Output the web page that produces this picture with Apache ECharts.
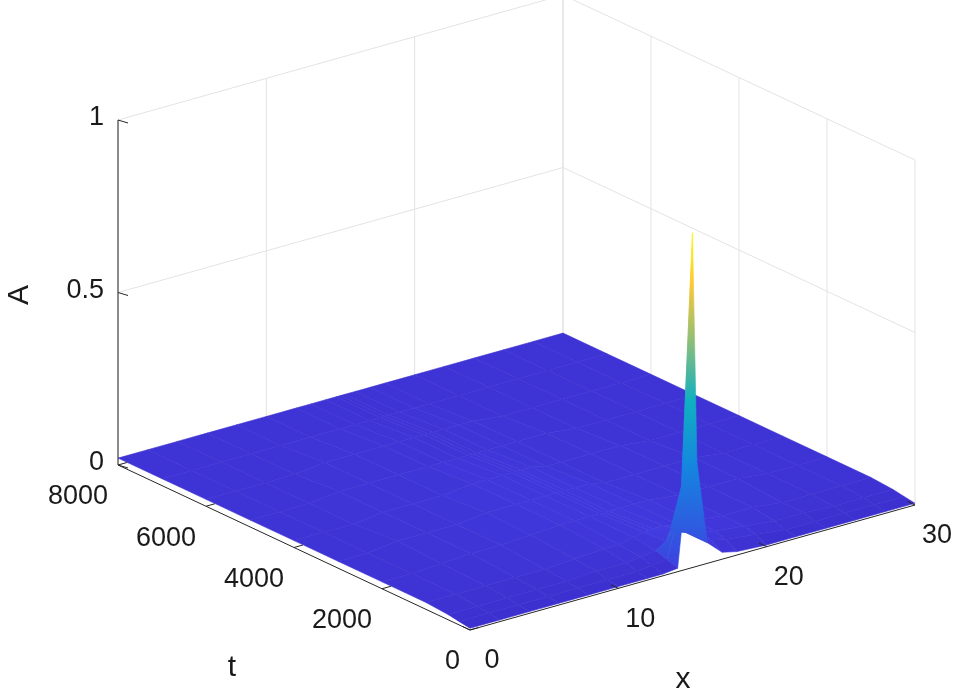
<!DOCTYPE html>
<html><head><meta charset="utf-8">
<script src="https://cdn.jsdelivr.net/npm/echarts@6/dist/echarts.min.js"></script>
<style>html,body{margin:0;background:#fff}#c{width:974px;height:692px}</style>
</head><body><div id="c"></div>
<script>
const xs = [0,2,4,6,8,10,12,13,14,14.7,15,15.3,16,17,18,20,22,24,26,28,30];
const ts = [0,250,500,1000,2000,3000,4000,5000,6000,7000,8000];
// A values, one row per t
const A = [
[0.005,0.005,0.005,0.005,0.005,0.005,0.005,0.005,0.01,0.30,0.97,0.30,0.06,0.02,0.01,0.005,0.005,0.005,0.005,0.005,0.005],
[0.01,0.01,0.01,0.01,0.01,0.01,0.01,0.015,0.02,0.12,0.22,0.12,0.06,0.04,0.03,0.02,0.01,0.01,0.01,0.01,0.01],
[0.015,0.015,0.015,0.015,0.015,0.02,0.02,0.025,0.03,0.05,0.08,0.07,0.06,0.05,0.04,0.03,0.02,0.02,0.015,0.015,0.015],
[0.02,0.02,0.02,0.02,0.02,0.025,0.03,0.03,0.04,0.045,0.05,0.05,0.05,0.04,0.04,0.03,0.03,0.02,0.02,0.02,0.02],
[0.02,0.02,0.025,0.03,0.03,0.035,0.04,0.04,0.04,0.04,0.04,0.04,0.04,0.04,0.04,0.03,0.03,0.03,0.02,0.02,0.02],
[0.02,0.02,0.03,0.03,0.03,0.04,0.04,0.04,0.04,0.04,0.04,0.04,0.04,0.04,0.03,0.03,0.03,0.03,0.02,0.02,0.02],
[0.02,0.02,0.02,0.03,0.03,0.03,0.04,0.04,0.04,0.04,0.04,0.04,0.04,0.03,0.03,0.03,0.03,0.02,0.02,0.02,0.02],
[0.02,0.02,0.02,0.03,0.03,0.03,0.03,0.03,0.03,0.03,0.03,0.03,0.03,0.03,0.03,0.03,0.02,0.02,0.02,0.02,0.02],
[0.02,0.02,0.02,0.02,0.03,0.03,0.03,0.03,0.03,0.03,0.03,0.03,0.03,0.03,0.03,0.02,0.02,0.02,0.02,0.02,0.02],
[0.02,0.02,0.02,0.02,0.02,0.02,0.02,0.02,0.02,0.02,0.02,0.02,0.02,0.02,0.02,0.02,0.02,0.02,0.02,0.02,0.02],
[0.02,0.02,0.02,0.02,0.02,0.02,0.02,0.02,0.02,0.02,0.02,0.02,0.02,0.02,0.02,0.02,0.02,0.02,0.02,0.02,0.02]
];
const xTicks = [0,10,20,30];
const tTicks = [0,2000,4000,6000,8000];
const zTicks = [0,0.5,1];

const O=[470,630], VX=[445,-125], VT=[-352,-165], VZ=[0,-345];
function P(x,t,z){return [O[0]+x/30*VX[0]+t/8000*VT[0]+z*VZ[0], O[1]+x/30*VX[1]+t/8000*VT[1]+z*VZ[1]];}
const stops=[[0,[60,46,205]],[0.06,[66,60,225]],[0.2,[20,110,235]],[0.4,[8,160,205]],[0.55,[40,185,165]],[0.7,[130,190,110]],[0.82,[220,185,80]],[0.92,[253,205,45]],[1,[249,251,14]]];
function rgb(a){return 'rgb('+a.map(Math.round).join(',')+')';}
function cmap(v){v=Math.max(0,Math.min(1,v/0.97));for(let k=1;k<stops.length;k++){if(v<=stops[k][0]){const a=stops[k-1],b=stops[k],f=(v-a[0])/(b[0]-a[0]);return rgb(a[1].map((c,i)=>c+f*(b[1][i]-c)));}}return rgb(stops[stops.length-1][1]);}

const quads=[];
for(let j=0;j<ts.length-1;j++)for(let i=0;i<xs.length-1;i++){
  const d=(xs[i]+xs[i+1])/60+(ts[j]+ts[j+1])/16000;
  quads.push({i,j,d});
}
quads.sort((a,b)=>b.d-a.d);
const surfData=quads.map(q=>[q.i,q.j]);

const grid='#e3e3e3', dark='#262626';
function wallLines(){
  const els=[];
  const L=(a,b)=>els.push({type:'line',shape:{x1:a[0],y1:a[1],x2:b[0],y2:b[1]},style:{stroke:grid,lineWidth:1}});
  xTicks.forEach(x=>L(P(x,8000,0),P(x,8000,1)));
  tTicks.forEach(t=>L(P(30,t,0),P(30,t,1)));
  zTicks.forEach(z=>{L(P(0,8000,z),P(30,8000,z));L(P(30,8000,z),P(30,0,z));});
  return els;
}
function frontAxes(){
  const els=[];
  const L=(a,b)=>els.push({type:'line',shape:{x1:a[0],y1:a[1],x2:b[0],y2:b[1]},style:{stroke:dark,lineWidth:1}});
  const T=(p,s,al,fs)=>els.push({type:'text',x:p[0],y:p[1],style:{text:s,font:(fs||27)+'px "Liberation Sans", Arial',fill:'#1a1a1a',align:al||'center',verticalAlign:'middle'}});
  L(P(0,0,0),P(30,0,0)); L(P(0,0,0),P(0,8000,0)); L(P(0,8000,0),P(0,8000,1));
  xTicks.forEach(x=>{const p=P(x,0,0),q=P(x,170,0);L(p,q);T([p[0]+22,p[1]+31],String(x));});
  tTicks.forEach(t=>{const p=P(0,t,0),q=P(0.6,t,0);L(p,q);T([p[0]-10,p[1]+32],String(t),'right');});
  zTicks.forEach(z=>{const p=P(0,8000,z);L(p,[p[0]+10,p[1]+3]);T([p[0]-14,p[1]-2],String(z),'right');});
  T([232,668],'t',null,30); T([683,680],'x',null,30);
  els.push({type:'text',x:20,y:295,rotation:Math.PI/2,style:{text:'A',font:'30px "Liberation Sans", Arial',fill:'#1a1a1a',align:'center',verticalAlign:'middle'}});
  return els;
}
const tip=P(15,0,0.97), base=P(15,0,0);
const spikeGrad=new echarts.graphic.LinearGradient(0,tip[1],0,base[1],
  [{offset:0,color:'#f9fb0e'},{offset:0.15,color:'#fec832'},{offset:0.3,color:'#9dc070'},{offset:0.5,color:'#10b0c0'},{offset:0.7,color:'#1585e0'},{offset:1,color:'#3e40e0'}],true);
const chart=echarts.init(document.getElementById('c'));
chart.setOption({
  animation:false,
  series:[
    {type:'custom',coordinateSystem:'none',data:[0],z:1,renderItem:()=>({type:'group',children:wallLines()})},
    {type:'custom',coordinateSystem:'none',data:surfData,z:2,renderItem:(params,api)=>{
      const i=api.value(0),j=api.value(1);
      const pts=[P(xs[i],ts[j],A[j][i]),P(xs[i+1],ts[j],A[j][i+1]),P(xs[i+1],ts[j+1],A[j+1][i+1]),P(xs[i],ts[j+1],A[j+1][i])];
      const mx=Math.max(A[j][i],A[j][i+1],A[j+1][i+1],A[j+1][i]);
      const v=(A[j][i]+A[j][i+1]+A[j+1][i+1]+A[j+1][i])/4;
      const c=mx>0.1?spikeGrad:cmap(v);
      return {type:'polygon',shape:{points:pts},style:{fill:c,stroke:c,lineWidth:0.6}};
    }},
    {type:'custom',coordinateSystem:'none',data:[0],z:3,renderItem:()=>({type:'group',children:frontAxes()})}
  ]
});
</script></body></html>
